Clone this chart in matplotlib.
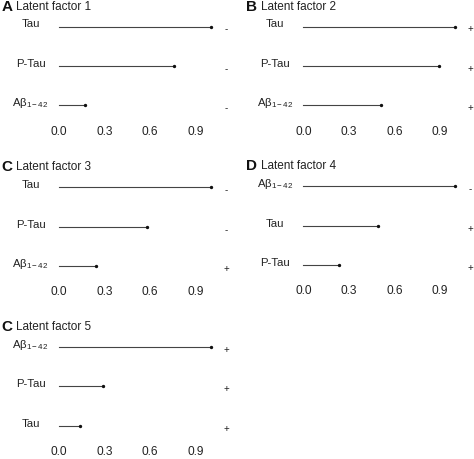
import matplotlib
matplotlib.use("Agg")
import matplotlib.pyplot as plt

plt.rcParams['font.family'] = ['Liberation Sans', 'DejaVu Sans']
plt.rcParams['mathtext.fontset'] = 'custom'
plt.rcParams['mathtext.rm'] = 'Liberation Sans'
plt.rcParams['mathtext.it'] = 'Liberation Sans'

AB = r"Aβ$_{\mathregular{1-42}}$"

# panel data (rows top to bottom)
letters = ["A", "B", "C", "D", "C"]
titles = ["Latent factor 1", "Latent factor 2", "Latent factor 3", "Latent factor 4", "Latent factor 5"]
labels1 = ["Tau", "P-Tau", AB]
loads1 = [1.0, 0.76, 0.17]
signs1 = ["-", "-", "-"]
labels2 = ["Tau", "P-Tau", AB]
loads2 = [1.0, 0.89, 0.51]
signs2 = ["+", "+", "+"]
labels3 = ["Tau", "P-Tau", AB]
loads3 = [1.0, 0.58, 0.245]
signs3 = ["-", "-", "+"]
labels4 = [AB, "Tau", "P-Tau"]
loads4 = [1.0, 0.49, 0.237]
signs4 = ["-", "+", "+"]
labels5 = [AB, "P-Tau", "Tau"]
loads5 = [1.0, 0.29, 0.14]
signs5 = ["+", "+", "+"]
ticks = [0.0, 0.3, 0.6, 0.9]
tick_labels = ["0.0", "0.3", "0.6", "0.9"]

panels = [
    (labels1, loads1, signs1),
    (labels2, loads2, signs2),
    (labels3, loads3, signs3),
    (labels4, loads4, signs4),
    (labels5, loads5, signs5),
]

W, H = 474, 460
fig = plt.figure(figsize=(W / 100, H / 100), dpi=100)

# pixel position of value 0 and of the first row for each panel
origins = [(58.7, 27.5), (303.3, 27.5), (58.7, 188.3), (303.3, 187.3), (58.7, 348.0)]
px_per_x = 152.0
px_per_row = 39.4
xlo, xhi = -0.38, 1.15
ylo, yhi = -2.4, 0.7

for k, (labs, vals, sg) in enumerate(panels):
    x0, y0 = origins[k]
    left = x0 + xlo * px_per_x
    width = (xhi - xlo) * px_per_x
    top = y0 - yhi * px_per_row
    height = (yhi - ylo) * px_per_row
    ax = fig.add_axes([left / W, 1 - (top + height) / H, width / W, height / H])
    ax.set_xlim(xlo, xhi)
    ax.set_ylim(ylo, yhi)
    for s in ax.spines.values():
        s.set_visible(False)
    ax.set_yticks([])
    ax.set_xticks(ticks)
    ax.set_xticklabels(tick_labels)
    ax.tick_params(axis='x', length=0, pad=2.5, labelsize=8.6, labelcolor='#222222')
    for i, (lab, v, s) in enumerate(zip(labs, vals, sg)):
        y = -i
        ax.plot([0, v], [y, y], color='#444444', lw=0.8)
        ax.plot([v], [y], 'o', color='#111111', ms=1.4)
        ax.text(-0.185, y + 0.08, lab, ha='center', va='center', fontsize=8.2,
                color='#222222')
        ax.text(1.10, y - 0.05, s, ha='center', va='center', fontsize=7,
                color='#222222')
    ax.text(-0.375, 0.53, letters[k], ha='left', va='center', fontsize=11,
            fontweight='bold', color='#111111')
    ax.text(-0.28, 0.53, titles[k], ha='left', va='center', fontsize=8.5,
            color='#222222')

fig.savefig("out.png", dpi=100)
